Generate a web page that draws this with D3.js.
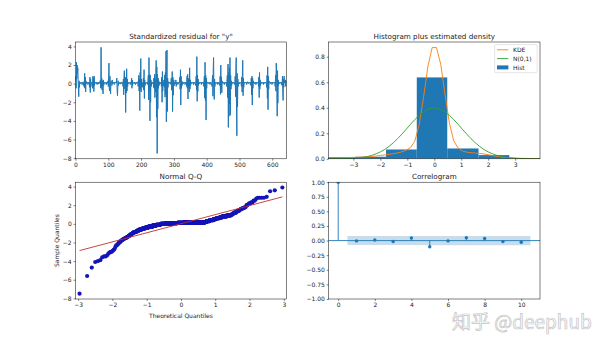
<!DOCTYPE html>
<html>
<head>
<meta charset="utf-8">
<script src="https://cdn.jsdelivr.net/npm/d3@7"></script>
<style>
  html, body { margin: 0; padding: 0; background: #fff; }
  svg { display: block; }
</style>
</head>
<body>
<svg id="fig" width="600" height="343"></svg>
<script>
// ---- Standardized residuals (one value per observation) ----
const residuals = [
  0.3, 0.8, -0.5, 2.3, 0.5, 2.0, 1.1, 1.7, 0.4, -0.6, -1.4, 0.3, -0.4, 0.1, 0.05, 0.12, 0.0, 0.14, 0.08, 0.12, -0.1, 0.05, 0.15, 0.2, -0.2,
  0.1, 0.12, -0.4, 1.1, -0.5, 0.7, -0.9, 0.3, 0.0, 0.14, 0.05, 0.12, 0.1, -0.1, 0.13, 0.02, 0.15, 0.08, -0.4, 0.7, -0.95, 0.5, -0.3, 0.12, 0.05,
  0.14, 0.0, -0.5, 0.8, -0.4, 0.6, -0.85, 0.8, -0.2, 0.12, 0.1, 0.05, 0.15, 0.0, 0.13, 0.08, -0.1, 0.12, 0.02, 0.14, 0.11, -0.05, 0.15, 0.05, 0.2,
  0.12, 0.4, -0.5, 3.9, -0.4, 0.6, -0.7, 0.3, -0.3, -1.1, 0.4, -0.2, 0.1, 0.05, 0.14, 0.0, 0.12, 0.08, 0.15, -0.1, 0.1, 0.02, 0.13, 0.05, 0.3,
  -0.3, 0.6, 2.2, -0.5, -0.8, 0.8, -0.4, -1.1, 0.3, 0.1, 0.14, -0.2, 0.4, 0.0, 0.12, 0.05, 0.15, 0.08, -0.1, 0.12, 0.02, 0.14, 0.1, 0.05, 0.2,
  0.12, 0.6, -0.7, -1.3, -0.4, 0.3, -0.2, 0.05, 0.14, 0.0, 0.12, 0.1, 0.08, -0.05, 0.15, 0.02, 0.13, 0.1, 0.05, 0.14, -0.3, 0.5, -1.2, 0.9, 1.4,
  -0.5, -0.6, 0.7, -3.1, 0.7, -1.0, 1.6, -0.8, 0.5, -0.3, 0.15, 0.0, 0.12, 0.08, 0.14, 0.05, 0.1, -0.1, 0.13, 0.02, 0.15, 0.6, -0.5, 0.4, -0.2,
  0.1, 0.12, 0.05, 0.14, 0.0, 0.15, 0.08, 0.12, -0.1, 0.1, 0.02, 0.13, 0.05, 0.14, 0.11, 0.2, -0.3, 0.4, 0.9, -0.8, 0.5, -2.9, 1.2, -0.6, 2.7,
  -0.9, 0.5, -0.3, 0.12, 0.05, -0.4, 0.2, 0.6, -0.7, 1.5, -1.6, 0.4, -0.2, 0.1, 0.14, 0.0, 0.12, 0.08, 0.15, 0.05, -0.1, 0.3, 0.9, -1.75, 2.8,
  -0.7, 1.0, -4.0, 0.9, -2.0, 0.4, -0.3, 0.12, 0.05, 0.14, 0.0, 0.1, 0.15, -0.4, 0.6, -0.5, 1.0, -1.5, 0.5, -0.9, 1.2, 2.5, -3.6, 1.8, -7.5,
  1.0, -2.7, 0.6, -0.5, 0.3, -0.2, 0.12, 0.05, 0.14, 0.0, 0.1, 0.15, -0.3, 0.7, -2.0, 1.3, -0.8, 0.4, -0.2, 0.12, 0.08, -0.4, 0.9, -1.45, 1.2,
  -1.1, 3.5, -4.1, 0.8, 3.6, -3.0, 0.6, -0.4, 0.2, 0.1, 0.14, 0.05, 0.12, 0.0, 0.15, 0.08, -0.1, 0.6, -0.7, 0.4, 1.3, -3.0, 0.7, -1.25, 0.3,
  0.4, -0.2, 0.12, 0.05, 0.14, 0.0, 0.4, -0.3, 0.1, 0.15, 0.08, 0.12, -0.1, 0.13, 0.02, 0.14, 0.1, 0.2, 0.7, -0.6, 1.5, -2.3, 0.8, -0.5, 0.3,
  -0.2, 0.12, 0.05, 0.14, 0.0, 0.1, 0.15, 0.08, 0.12, -0.1, 0.13, 0.02, 0.14, 0.1, -0.3, 0.8, -0.5, 1.0, -1.65, 0.5, -0.4, 0.6, -0.9, 1.7, -0.6,
  0.4, -0.2, 0.12, 0.05, 0.14, 0.0, 0.1, 0.15, 0.08, 0.12, -0.1, 0.13, 0.02, 0.14, 0.1, 0.05, -0.2, 0.3, 0.8, -0.7, 2.9, -1.9, 0.9, -0.85, 0.5,
  -0.2, 0.12, 0.05, 0.14, 0.0, 0.1, 0.15, 0.08, 0.12, -0.1, 0.13, 0.02, 0.14, 0.1, 0.05, 0.15, -0.3, 0.4, 0.8, -1.55, 2.3, -1.8, 0.9, -3.9, 0.6,
  -0.5, 0.2, 0.12, 0.05, 0.14, 0.0, 0.1, 0.15, 0.08, 0.12, -0.1, 0.13, 0.02, 0.14, 0.1, 0.05, -0.3, 0.4, 0.9, -1.35, 1.6, 2.8, -0.7, -1.7, 0.5,
  -0.3, 0.12, 0.05, 0.14, 0.0, 0.1, 0.15, 0.08, 0.12, -0.1, 0.13, 0.02, 0.14, 0.1, 0.05, -0.2, 0.8, -1.15, 2.0, -0.6, 0.7, -1.0, 0.3, 0.1, 0.15,
  0.0, 0.12, 0.08, 0.14, -0.1, 0.1, 0.15, 0.05, 0.13, 0.02, 0.12, -0.3, 0.4, 0.9, -1.5, 2.1, -4.7, 1.2, -3.5, 1.7, -2.2, 2.8, -3.4, 0.9, -0.6,
  0.3, -0.2, 0.12, 0.05, 0.14, 0.0, 0.1, 0.15, 0.08, 0.12, -0.1, 0.13, 0.8, -1.4, 1.6, 2.8, -3.2, -5.6, 1.1, -2.5, 0.5, -0.3, 0.12, 0.05, 0.14,
  0.0, 0.1, 0.15, 0.08, 0.12, -0.1, -0.3, 0.7, -0.9, 1.4, 2.5, -1.3, 0.6, -0.4, 0.13, 0.02, 0.14, 0.1, 0.05, 0.15, 0.08, 0.12, -0.1, 0.13, 0.2,
  0.05, 0.12, 0.14, 0.0, 0.1, 0.15, 0.08, 0.12, -0.1, 0.13, -0.2, 0.6, -1.2, 0.8, -2.3, 0.6, -0.5, 0.3, 0.1, 0.05, 0.14, 0.0, 0.12, 0.08, 0.15,
  -0.1, 0.13, 0.02, 0.14, 0.1, 0.05, 0.15, 0.08, -0.3, 0.7, -1.5, 1.2, -0.6, 0.4, -0.2, 0.12, 0.05, 0.14, 0.0, 0.1, 0.15, 0.08, 0.12, -0.1, 0.13,
  0.02, 0.14, 0.1, 0.05, 0.15, 0.08, 0.12, -0.1, -0.4, 0.9, -1.6, 1.8, -2.8, 0.8, -0.6, 0.3, 0.12, 0.05, 0.14, 0.0, 0.1, 0.15, 0.08, 0.12, -0.1,
  0.13, 0.02, 0.14, 0.1, 0.05, 0.15, 0.08, 0.12, -0.1, -0.3, 0.9, -0.8, 2.2, 1.4, -1.05, -3.5, 1.4, -2.1, 0.4, -0.2, 0.12, 0.05, 0.14, 0.0, 0.1,
  0.15, 0.08, 0.12, -0.1, 0.13, -0.2, 0.8, -0.95, -1.8, 0.5, -0.4, 0.8, 0.1, 0.14, 0.05, 0.4, -0.3, 0.3, 0.1
];

// ---- Histogram of residuals (density per bin) ----
const histEdges = [-7.50, -6.36, -5.21, -4.07, -2.93, -1.79, -0.65, 0.48, 1.64, 2.78, 3.92];
const histDensity = [0.0014, 0.0014, 0.005, 0.012, 0.016, 0.073, 0.638, 0.081, 0.029, 0.004];

// ---- Density curves evaluated on a grid over [-3.92, 3.92] ----
const densityGrid = [
  -3.92, -3.76, -3.60, -3.44, -3.28, -3.12, -2.96, -2.80, -2.64, -2.48,
  -2.32, -2.16, -2.00, -1.84, -1.68, -1.52, -1.36, -1.20, -1.04, -0.88,
  -0.72, -0.56, -0.40, -0.24, -0.08, 0.08, 0.24, 0.40, 0.56, 0.72,
  0.88, 1.04, 1.20, 1.36, 1.52, 1.68, 1.84, 2.00, 2.16, 2.32,
  2.48, 2.64, 2.80, 2.96, 3.12, 3.28, 3.44, 3.60, 3.76, 3.92
];
const kdeValues = [
  0.004, 0.005, 0.006, 0.007, 0.008, 0.010, 0.011, 0.012, 0.014, 0.016,
  0.018, 0.022, 0.026, 0.030, 0.035, 0.040, 0.046, 0.055, 0.068, 0.088,
  0.140, 0.270, 0.480, 0.720, 0.872, 0.872, 0.740, 0.500, 0.280, 0.140,
  0.085, 0.062, 0.052, 0.048, 0.045, 0.042, 0.038, 0.032, 0.026, 0.020,
  0.014, 0.010, 0.007, 0.005, 0.004, 0.003, 0.003, 0.002, 0.002, 0.001
];
const normalValues = [
  0.000, 0.000, 0.001, 0.001, 0.002, 0.003, 0.005, 0.008, 0.012, 0.018,
  0.027, 0.039, 0.054, 0.073, 0.097, 0.126, 0.158, 0.194, 0.232, 0.271,
  0.308, 0.341, 0.368, 0.388, 0.398, 0.398, 0.388, 0.368, 0.341, 0.308,
  0.271, 0.232, 0.194, 0.158, 0.126, 0.097, 0.073, 0.054, 0.039, 0.027,
  0.018, 0.012, 0.008, 0.005, 0.003, 0.002, 0.001, 0.001, 0.000, 0.000
];
const legendLabels = ["KDE", "N(0,1)", "Hist"];

// ---- Autocorrelation of residuals ----
const acfLags = [0, 1, 2, 3, 4, 5, 6, 7, 8, 9, 10];
const acfValues = [1.0, -0.005, 0.010, -0.015, 0.045, -0.105, -0.005, 0.048, 0.036, -0.017, -0.027];
const acfBandLags = [0.5, 1, 2, 3, 4, 5, 6, 7, 8, 9, 10.5];
const acfBandHalf = [0.077, 0.077, 0.077, 0.077, 0.077, 0.078, 0.078, 0.078, 0.078, 0.078, 0.078];

// ---- Tick values ----
const residXTicks = [0, 100, 200, 300, 400, 500, 600];
const residYTicks = [-8, -6, -4, -2, 0, 2, 4];
const histXTicks = [-3, -2, -1, 0, 1, 2, 3];
const histYTicks = [0.0, 0.2, 0.4, 0.6, 0.8];
const qqXTicks = [-3, -2, -1, 0, 1, 2, 3];
const qqYTicks = [-8, -6, -4, -2, 0, 2, 4];
const acfXTicks = [0, 2, 4, 6, 8, 10];
const acfYTicks = [-1.0, -0.75, -0.5, -0.25, 0.0, 0.25, 0.5, 0.75, 1.0];

// ---- Titles and labels ----
const titles = ['Standardized residual for "y"', 'Histogram plus estimated density', 'Normal Q-Q', 'Correlogram'];
const qqXLabel = 'Theoretical Quantiles';
const qqYLabel = 'Sample Quantiles';
const watermark = '知乎 @deephub';

// ---------------------------------------------------------------
const C0 = '#1f77b4', C1 = '#ff7f0e', C2 = '#2ca02c';
const FONT = "'DejaVu Sans', sans-serif";
const TICK_FS = 6.0, TITLE_FS = 7.2;
const LW = 0.9;
const TEXT = '#222';

const svg = d3.select('#fig');
svg.append('rect').attr('width', 600).attr('height', 343).attr('fill', '#fff');
const defs = svg.append('defs');

const boxes = {
  resid: { x0: 75.5, x1: 286.4, y0: 42.0, y1: 158.8 },
  hist:  { x0: 328.6, x1: 540.0, y0: 42.0, y1: 158.8 },
  qq:    { x0: 75.5, x1: 286.4, y0: 182.2, y1: 299.0 },
  acf:   { x0: 328.6, x1: 540.0, y0: 182.2, y1: 299.0 }
};

const minus = s => s.replace(/^-/, '\u2212');

function padDomain(lo, hi, frac) {
  const r = hi - lo;
  return [lo - r * frac, hi + r * frac];
}

function panel(id, box) {
  defs.append('clipPath').attr('id', 'clip-' + id)
    .append('rect')
    .attr('x', box.x0).attr('y', box.y0)
    .attr('width', box.x1 - box.x0).attr('height', box.y1 - box.y0);
  const g = svg.append('g');
  const plot = g.append('g').attr('clip-path', `url(#clip-${id})`);
  return { g, plot };
}

function decorate(g, box, x, y, xTicks, yTicks, xFmt, yFmt, title) {
  const ax = g.append('g').attr('transform', `translate(0,${box.y1})`)
    .call(d3.axisBottom(x).tickValues(xTicks).tickFormat(d => minus(xFmt(d)))
      .tickSize(1.9).tickPadding(1.9));
  const ay = g.append('g').attr('transform', `translate(${box.x0},0)`)
    .call(d3.axisLeft(y).tickValues(yTicks).tickFormat(d => minus(yFmt(d)))
      .tickSize(1.9).tickPadding(1.9));
  [ax, ay].forEach(a => {
    a.select('.domain').remove();
    a.selectAll('line').attr('stroke', '#000').attr('stroke-width', 0.5);
    a.selectAll('text').attr('font-family', FONT).attr('font-size', TICK_FS).attr('fill', TEXT);
  });
  g.append('rect')
    .attr('x', box.x0).attr('y', box.y0)
    .attr('width', box.x1 - box.x0).attr('height', box.y1 - box.y0)
    .attr('fill', 'none').attr('stroke', '#000').attr('stroke-width', 0.5);
  g.append('text')
    .attr('x', (box.x0 + box.x1) / 2).attr('y', box.y0 - 3.4)
    .attr('text-anchor', 'middle')
    .attr('font-family', FONT).attr('font-size', TITLE_FS).attr('fill', TEXT)
    .text(title);
}

// ---- Panel 1: standardized residual series ----
{
  const b = boxes.resid;
  const { g, plot } = panel('resid', b);
  const x = d3.scaleLinear().domain([0, residuals.length - 1]).range([b.x0, b.x1]);
  const ext = d3.extent(residuals);
  const y = d3.scaleLinear().domain(padDomain(ext[0], ext[1], 0.05)).range([b.y1, b.y0]);
  plot.append('path')
    .datum(residuals)
    .attr('d', d3.line().x((d, i) => x(i)).y(d => y(d)))
    .attr('fill', 'none').attr('stroke', C0).attr('stroke-width', 1.0)
    .attr('stroke-linejoin', 'round');
  decorate(g, b, x, y, residXTicks, residYTicks, d3.format('d'), d3.format('d'), titles[0]);
}

// ---- Panel 2: histogram with density curves ----
{
  const b = boxes.hist;
  const { g, plot } = panel('hist', b);
  const x = d3.scaleLinear().domain([densityGrid[0], densityGrid[densityGrid.length - 1]]).range([b.x0, b.x1]);
  const ymax = d3.max([d3.max(kdeValues), d3.max(normalValues), d3.max(histDensity)]);
  const y = d3.scaleLinear().domain([0, ymax * 1.05]).range([b.y1, b.y0]);
  plot.selectAll('rect.bar')
    .data(histDensity)
    .join('rect')
    .attr('class', 'bar')
    .attr('x', (d, i) => x(histEdges[i]))
    .attr('width', (d, i) => x(histEdges[i + 1]) - x(histEdges[i]))
    .attr('y', d => y(d))
    .attr('height', d => y(0) - y(d))
    .attr('fill', C0);
  const line = d3.line().x((d, i) => x(densityGrid[i])).y(d => y(d));
  plot.append('path').datum(kdeValues).attr('d', line)
    .attr('fill', 'none').attr('stroke', C1).attr('stroke-width', LW);
  plot.append('path').datum(normalValues).attr('d', line)
    .attr('fill', 'none').attr('stroke', C2).attr('stroke-width', LW);
  decorate(g, b, x, y, histXTicks, histYTicks, d3.format('d'), d3.format('.1f'), titles[1]);

  // legend
  const lg = g.append('g');
  lg.append('rect')
    .attr('x', 494.6).attr('y', 44.6).attr('width', 42.6).attr('height', 28.0)
    .attr('rx', 1.2)
    .attr('fill', '#fff').attr('fill-opacity', 0.8)
    .attr('stroke', '#cccccc').attr('stroke-width', 0.5);
  const rowsY = [49.8, 58.6, 67.4];
  const colors = [C1, C2, C0];
  legendLabels.forEach((lab, i) => {
    if (i < 2) {
      lg.append('line')
        .attr('x1', 497.0).attr('x2', 508.4).attr('y1', rowsY[i]).attr('y2', rowsY[i])
        .attr('stroke', colors[i]).attr('stroke-width', LW);
    } else {
      lg.append('rect')
        .attr('x', 497.0).attr('y', rowsY[i] - 2.0).attr('width', 11.4).attr('height', 4.0)
        .attr('fill', colors[i]);
    }
    lg.append('text')
      .attr('x', 513.0).attr('y', rowsY[i]).attr('dy', '0.36em')
      .attr('font-family', FONT).attr('font-size', TICK_FS).attr('fill', TEXT)
      .text(lab);
  });
}

// ---- Panel 3: normal Q-Q plot ----
function probit(p) {
  const a = [-3.969683028665376e+01, 2.209460984245205e+02, -2.759285104469687e+02, 1.383577518672690e+02, -3.066479806614716e+01, 2.506628277459239e+00];
  const b = [-5.447609879822406e+01, 1.615858368580409e+02, -1.556989798598866e+02, 6.680131188771972e+01, -1.328068155288572e+01];
  const c = [-7.784894002430293e-03, -3.223964580411365e-01, -2.400758277161838e+00, -2.549732539343734e+00, 4.374664141464968e+00, 2.938163982698783e+00];
  const d = [7.784695709041462e-03, 3.224671290700398e-01, 2.445134137142996e+00, 3.754408661907416e+00];
  const pl = 0.02425;
  let q, r;
  if (p < pl) {
    q = Math.sqrt(-2 * Math.log(p));
    return (((((c[0]*q + c[1])*q + c[2])*q + c[3])*q + c[4])*q + c[5]) / ((((d[0]*q + d[1])*q + d[2])*q + d[3])*q + 1);
  }
  if (p > 1 - pl) {
    q = Math.sqrt(-2 * Math.log(1 - p));
    return -(((((c[0]*q + c[1])*q + c[2])*q + c[3])*q + c[4])*q + c[5]) / ((((d[0]*q + d[1])*q + d[2])*q + d[3])*q + 1);
  }
  q = p - 0.5; r = q * q;
  return (((((a[0]*r + a[1])*r + a[2])*r + a[3])*r + a[4])*r + a[5])*q / (((((b[0]*r + b[1])*r + b[2])*r + b[3])*r + b[4])*r + 1);
}
{
  const bx = boxes.qq;
  const { g, plot } = panel('qq', bx);
  const sample = residuals.slice().sort(d3.ascending);
  const n = sample.length;
  const pts = sample.map((s, i) => ({ t: probit((i + 1) / (n + 1)), s }));
  const tExt = d3.extent(pts, d => d.t);
  const sExt = d3.extent(sample);
  const x = d3.scaleLinear().domain(padDomain(tExt[0], tExt[1], 0.02)).range([bx.x0, bx.x1]);
  const y = d3.scaleLinear().domain(padDomain(sExt[0], sExt[1], 0.05)).range([bx.y1, bx.y0]);
  const mean = d3.mean(sample);
  const sd = Math.sqrt(d3.mean(sample, v => (v - mean) * (v - mean)));
  plot.selectAll('circle')
    .data(pts)
    .join('circle')
    .attr('cx', d => x(d.t)).attr('cy', d => y(d.s)).attr('r', 2.1)
    .attr('fill', '#1414b8');
  plot.append('line')
    .attr('x1', x(tExt[0])).attr('y1', y(tExt[0] * sd + mean))
    .attr('x2', x(tExt[1])).attr('y2', y(tExt[1] * sd + mean))
    .attr('stroke', '#c0302a').attr('stroke-width', LW);
  decorate(g, bx, x, y, qqXTicks, qqYTicks, d3.format('d'), d3.format('d'), titles[2]);
  g.append('text')
    .attr('x', (bx.x0 + bx.x1) / 2).attr('y', 318.0)
    .attr('text-anchor', 'middle')
    .attr('font-family', FONT).attr('font-size', TICK_FS).attr('fill', TEXT)
    .text(qqXLabel);
  g.append('text')
    .attr('transform', `translate(58.6,${(bx.y0 + bx.y1) / 2}) rotate(-90)`)
    .attr('text-anchor', 'middle')
    .attr('font-family', FONT).attr('font-size', TICK_FS).attr('fill', TEXT)
    .text(qqYLabel);
}

// ---- Panel 4: correlogram ----
{
  const b = boxes.acf;
  const { g, plot } = panel('acf', b);
  const x = d3.scaleLinear()
    .domain(padDomain(0, acfBandLags[acfBandLags.length - 1], 0.05))
    .range([b.x0, b.x1]);
  const y = d3.scaleLinear().domain([-1, 1]).range([b.y1, b.y0]);
  plot.append('path')
    .datum(acfBandLags.map((l, i) => ({ l, h: acfBandHalf[i] })))
    .attr('d', d3.area().x(d => x(d.l)).y0(d => y(-d.h)).y1(d => y(d.h)))
    .attr('fill', C0).attr('fill-opacity', 0.25);
  plot.selectAll('line.stem')
    .data(acfValues)
    .join('line').attr('class', 'stem')
    .attr('x1', (d, i) => x(acfLags[i])).attr('x2', (d, i) => x(acfLags[i]))
    .attr('y1', y(0)).attr('y2', d => y(d))
    .attr('stroke', C0).attr('stroke-width', LW);
  plot.append('line')
    .attr('x1', b.x0).attr('x2', b.x1).attr('y1', y(0)).attr('y2', y(0))
    .attr('stroke', C0).attr('stroke-width', LW);
  plot.selectAll('circle')
    .data(acfValues)
    .join('circle')
    .attr('cx', (d, i) => x(acfLags[i])).attr('cy', d => y(d)).attr('r', 1.7)
    .attr('fill', C0);
  decorate(g, b, x, y, acfXTicks, acfYTicks, d3.format('d'), d3.format('.2f'), titles[3]);
}

// ---- Watermark ----
svg.append('text')
  .attr('x', 452).attr('y', 329)
  .attr('font-family', "'Noto Sans CJK SC', sans-serif")
  .attr('font-size', 19)
  .attr('fill', '#ffffff').attr('fill-opacity', 0.6)
  .attr('stroke', '#c4c4c4').attr('stroke-width', 0.7)
  .text(watermark);
</script>
</body>
</html>
